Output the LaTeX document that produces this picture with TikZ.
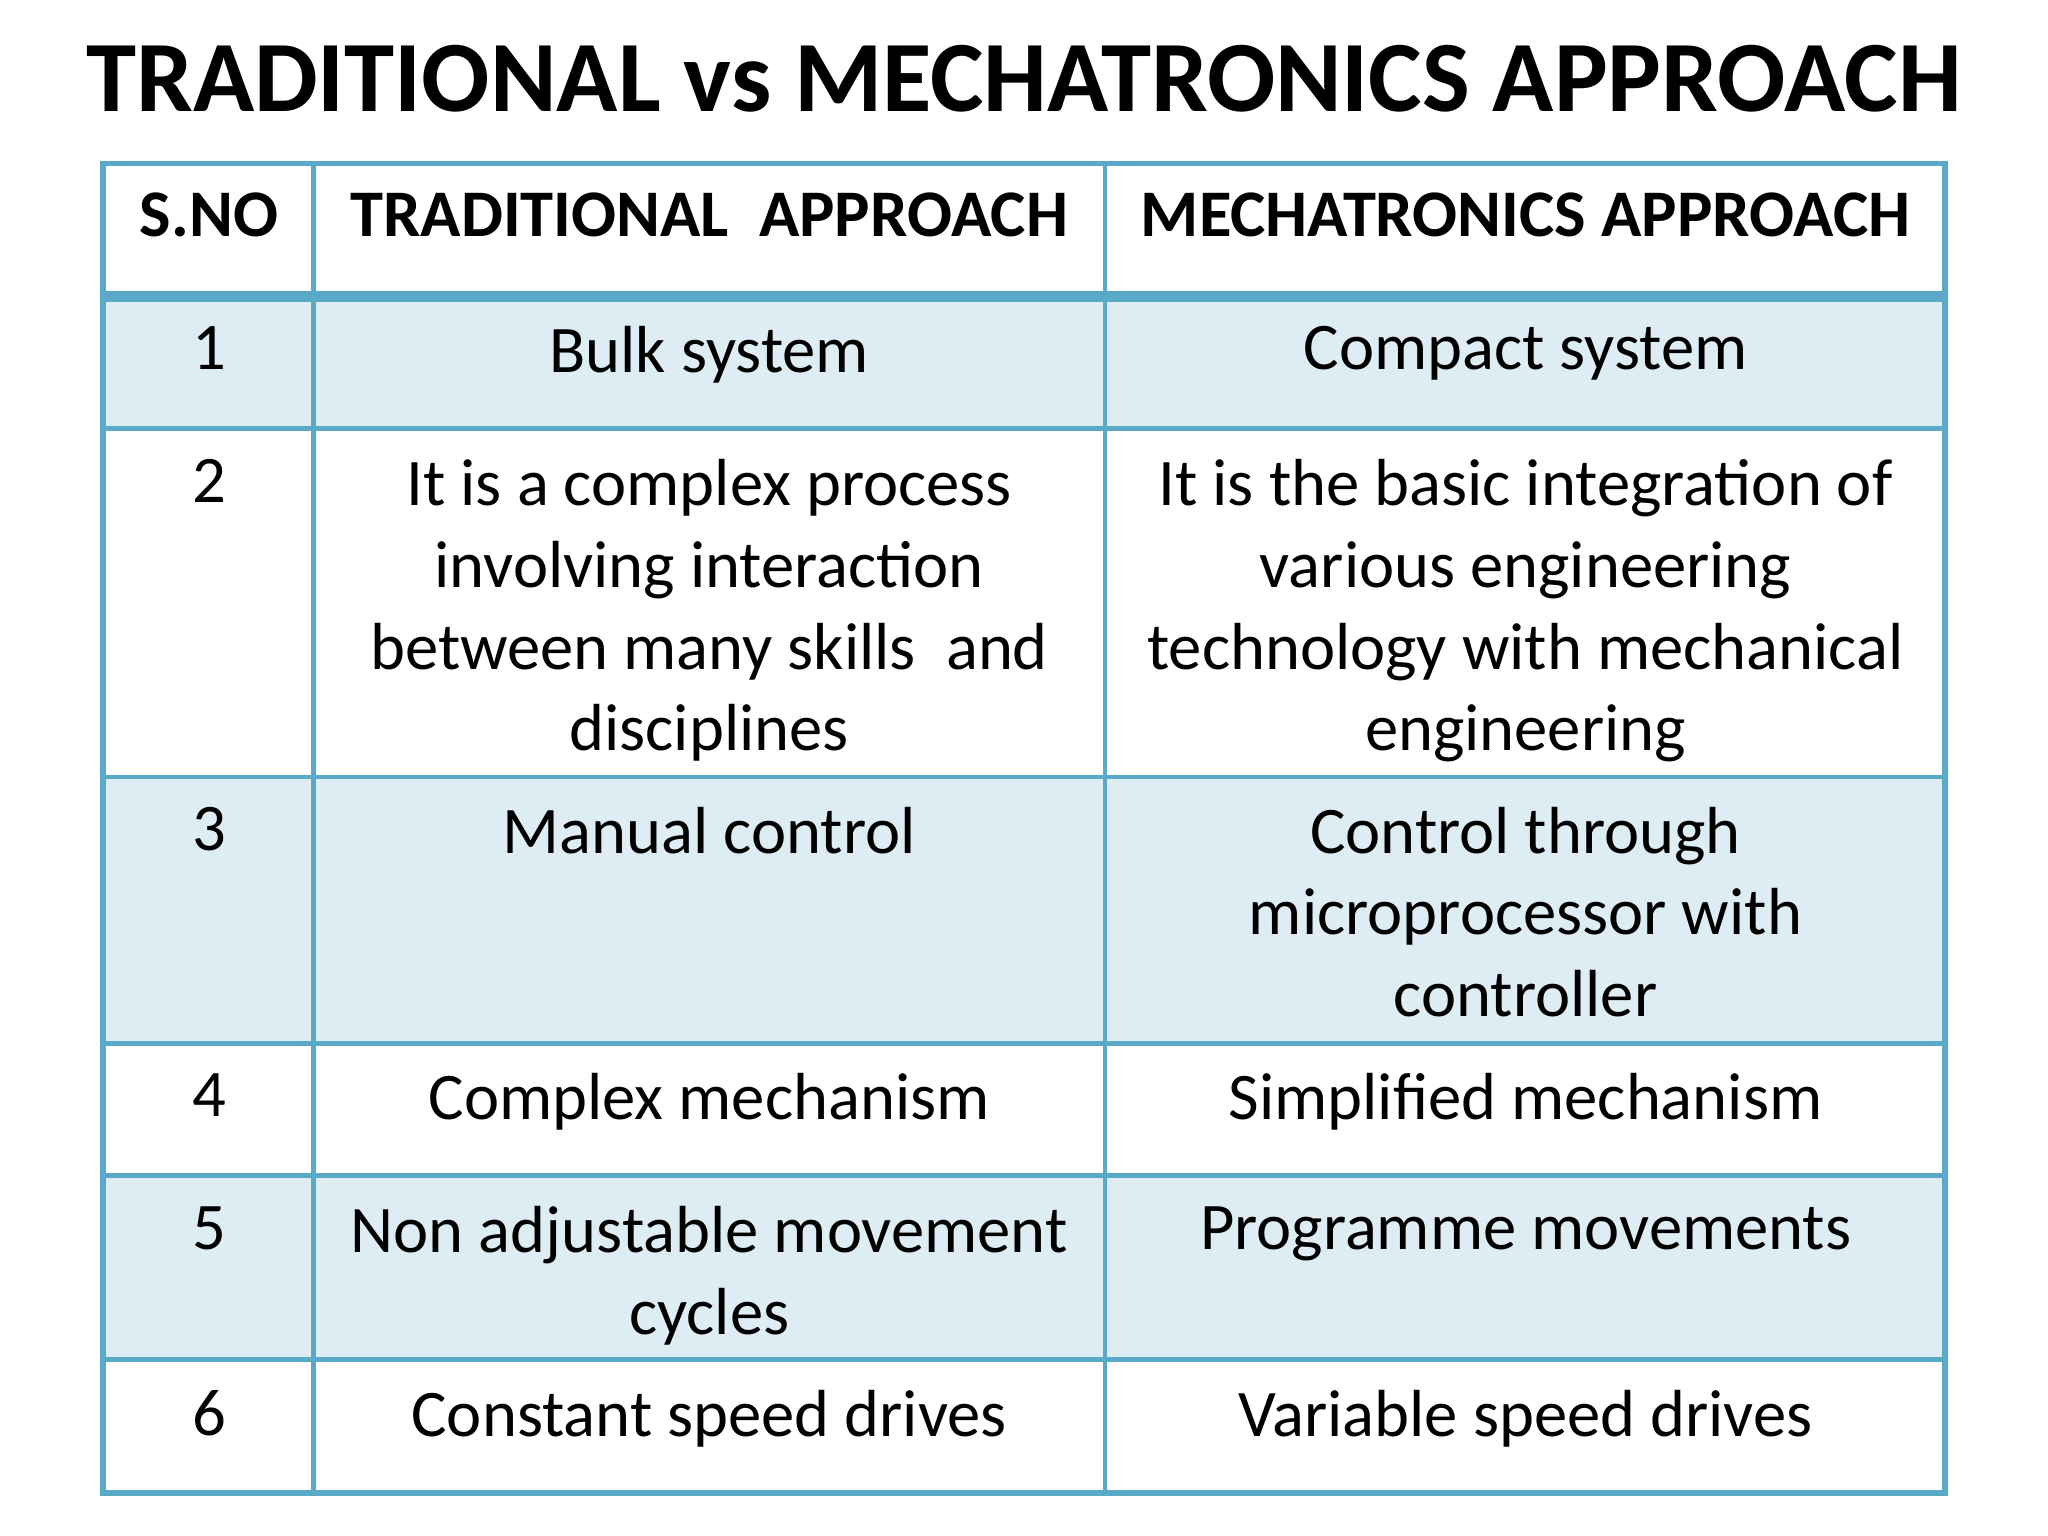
\documentclass[tikz,border=0pt]{standalone}
\usepackage{fontspec}
\setmainfont{Carlito}
\definecolor{grid}{HTML}{5AA9C9}
\definecolor{rowshade}{HTML}{DEEDF4}
\begin{document}
\begin{tikzpicture}[x=0.01cm,y=-0.01cm,
  cell/.style={anchor=north,align=center,inner sep=0pt,font=\fontsize{14.5}{17.8}\selectfont},
  head/.style={cell,font=\fontsize{14.5}{17.8}\selectfont\bfseries}]
\useasboundingbox (0,0) rectangle (1568,1176);
\foreach \a/\b in {227/328,595/799,900/1041}
  \fill[rowshade] (79,\a) rectangle (1489,\b);
\draw[grid,line width=1.2pt] (79,125) rectangle (1489,1143);
\foreach \y in {328,595,799,900,1041} \draw[grid,line width=1pt] (79,\y) -- (1489,\y);
\draw[grid,line width=2.5pt] (79,227) -- (1489,227);
\foreach \x in {240,846} \draw[grid,line width=1pt] (\x,125) -- (\x,1143);
\node[anchor=center,font=\fontsize{22}{27}\selectfont\bfseries] (title) at (784,60) {TRADITIONAL vs MECHATRONICS APPROACH};
\node[head] (h1) at (160,147) {S.NO};
\node[head] (h2) at (543,147) {TRADITIONAL\ \ APPROACH};
\node[head] (h3) at (1168,147) {MECHATRONICS APPROACH};
\node[cell] (n1) at (160,249) {1};
\node[cell] (t1) at (543,249) {Bulk system};
\node[cell] (m1) at (1168,249) {Compact system};
\node[cell] (n2) at (160,351) {2};
\node[cell] (t2) at (543,351) {It is a complex process\\involving interaction\\between many skills\ \ and\\disciplines};
\node[cell] (m2) at (1168,351) {It is the basic integration of\\various engineering\\technology with mechanical\\engineering};
\node[cell] (n3) at (160,617) {3};
\node[cell] (t3) at (543,617) {Manual control};
\node[cell] (m3) at (1168,617) {Control through\\microprocessor with\\controller};
\node[cell] (n4) at (160,821) {4};
\node[cell] (t4) at (543,821) {Complex mechanism};
\node[cell] (m4) at (1168,821) {Simplified mechanism};
\node[cell] (n5) at (160,923) {5};
\node[cell] (t5) at (543,923) {Non adjustable movement\\cycles};
\node[cell] (m5) at (1168,923) {Programme movements};
\node[cell] (n6) at (160,1064) {6};
\node[cell] (t6) at (543,1064) {Constant speed drives};
\node[cell] (m6) at (1168,1064) {Variable speed drives};
\end{tikzpicture}
\end{document}
